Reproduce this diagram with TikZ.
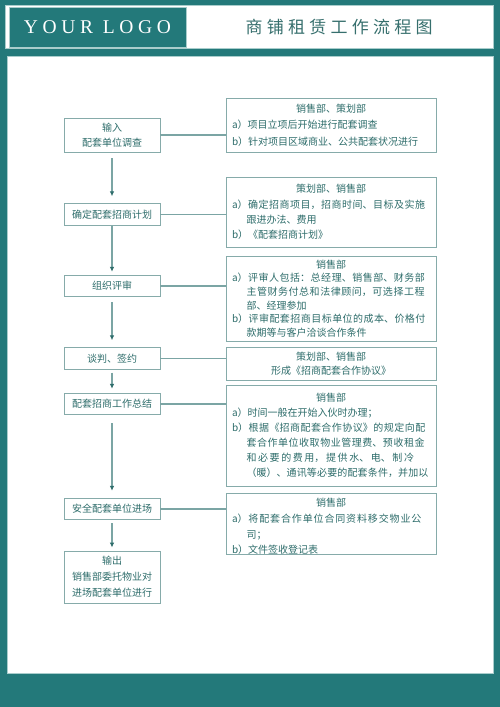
\documentclass[tikz,border=0pt]{standalone}
\usepackage{fontspec}
\usepackage{tikz}
\usetikzlibrary{arrows.meta}

\newfontfamily\cjk{Noto Sans CJK SC}
\newfontfamily\logofont[LetterSpace=24]{Liberation Serif}
\newfontfamily\titlefont[LetterSpace=25]{Noto Sans CJK SC}

\definecolor{mainteal}{HTML}{23797A}
\definecolor{edgec}{HTML}{A9CDCC}
\definecolor{boxc}{HTML}{86ABAA}
\definecolor{linec}{HTML}{7BA5A4}
\definecolor{txtc}{HTML}{2E6D6B}

\XeTeXlinebreaklocale "zh"
\XeTeXlinebreakskip=0pt plus 2pt
\tolerance=10000
\hbadness=10000

\newcommand\boxtitle[1]{{\centering\noindent #1\par}}
\newcommand\boxitem[2]{{\hangindent=1.45em\hangafter=1\noindent#1#2\par}}
\newcommand\boxitemj[2]{{\hangindent=1.45em\hangafter=1\parfillskip=0pt\noindent#1#2\par}}

\begin{document}
\begin{tikzpicture}[x=1pt, y=-1pt,
	lbox/.style={draw=boxc, line width=0.8pt, text=txtc, align=center, minimum width=96pt, minimum height=21.5pt, inner sep=0pt, font=\cjk\fontsize{10}{15}\selectfont},
	rbox/.style={draw=boxc, line width=0.8pt, text=txtc, text width=198pt, inner xsep=6pt, inner ysep=0pt},
	link/.style={draw=linec, line width=1.1pt},
	flow/.style={draw=linec, line width=1.1pt, -{Latex[length=5pt, width=4.5pt, color=txtc]}}]
	\useasboundingbox (0,0) rectangle (500,707);
	\fill[mainteal] (0,0) rectangle (500,707);
	\fill[white, draw=edgec, line width=0.8pt] (5,5) rectangle (493,48);
	\fill[white, draw=edgec, line width=0.8pt] (7,56) rectangle (493,673);
	
	\node[fill=mainteal, draw=edgec, line width=1pt, minimum width=177pt, minimum height=40pt, text=white, font=\logofont\fontsize{19.5}{24}\selectfont] (logo) at (97.5,27) {YOUR LOGO};
	\node[text=txtc!90!gray, font=\titlefont\fontsize{17}{20}\selectfont] (title) at (339,27) {商铺租赁工作流程图};
	
	\node[lbox, minimum height=34pt] (l1) at (112,135) {输入\\配套单位调查};
	\node[lbox] (l2) at (112,214.5) {确定配套招商计划};
	\node[lbox] (l3) at (112,286) {组织评审};
	\node[lbox] (l4) at (112,358.5) {谈判、签约};
	\node[lbox] (l5) at (112,404) {配套招商工作总结};
	\node[lbox] (l6) at (112,509) {安全配套单位进场};
	\node[lbox, minimum height=52pt, font=\cjk\fontsize{10}{16}\selectfont] (l7) at (112,577) {输出\\销售部委托物业对\\进场配套单位进行};
	
	\node[rbox, minimum height=54pt, font=\cjk\fontsize{10}{16.5}\selectfont] (r1) at (331,125) {%
		\boxtitle{销售部、策划部}%
		\boxitem{a）}{项目立项后开始进行配套调查}%
		\boxitem{b）}{针对项目区域商业、公共配套状况进行}};
	\node[rbox, minimum height=70pt, font=\cjk\fontsize{10}{15.3}\selectfont] (r2) at (331,212) {%
		\boxtitle{策划部、销售部}%
		\boxitem{a）}{确定招商项目，招商时间、目标及实施\linebreak 跟进办法、费用}%
		\boxitem{b）}{《配套招商计划》}};
	\node[rbox, minimum height=85pt, font=\cjk\fontsize{10}{13.6}\selectfont] (r3) at (331,298.5) {%
		\boxtitle{销售部}%
		\boxitem{a）}{评审人包括：总经理、销售部、财务部\linebreak 主管财务付总和法律顾问，可选择工程\linebreak 部、经理参加}%
		\boxitem{b）}{评审配套招商目标单位的成本、价格付\linebreak 款期等与客户洽谈合作条件}};
	\node[rbox, minimum height=33pt, font=\cjk\fontsize{10}{13.5}\selectfont] (r4) at (331,363.5) {%
		\boxtitle{策划部、销售部}%
		\boxtitle{形成《招商配套合作协议》}};
	\node[rbox, minimum height=101pt, font=\cjk\fontsize{10}{15}\selectfont] (r5) at (331,435.5) {%
		\boxtitle{销售部}%
		\boxitem{a）}{时间一般在开始入伙时办理；}%
		\boxitemj{b）}{根据《招商配套合作协议》的规定向配\linebreak 套合作单位收取物业管理费、预收租金\linebreak 和必要的费用，提供水、电、制冷\linebreak （暖）、通讯等必要的配套条件，并加以}};
	\node[rbox, minimum height=61pt] (r6) at (331,523.5) {};
	\begin{scope}
		\clip (r6.north west) rectangle (r6.south east);
		\node[rbox, draw=none, anchor=north, inner ysep=5.5pt, font=\cjk\fontsize{10}{15.6}\selectfont] (r6t) at (r6.north) {%
			\boxtitle{销售部}%
			\boxitem{a）}{将配套合作单位合同资料移交物业公\linebreak 司；}%
			\boxitem{b）}{文件签收登记表}};
	\end{scope}
	
	\draw[link] (l1.east) -- (l1.east -| r1.west);
	\draw[link] (l2.east) -- (l2.east -| r2.west);
	\draw[link] (l3.east) -- (l3.east -| r3.west);
	\draw[link] (l4.east) -- (l4.east -| r4.west);
	\draw[link] (l5.east) -- (l5.east -| r5.west);
	\draw[link] (l6.east) -- (l6.east -| r6.west);
	
	\draw[flow, shorten <=6pt, shorten >=7pt] (l1) -- (l2);
	\draw[flow, shorten >=3pt] (l2) -- (l3);
	\draw[flow, shorten <=5pt, shorten >=7pt] (l3) -- (l4);
	\draw[flow, shorten <=3pt, shorten >=4pt] (l4) -- (l5);
	\draw[flow, shorten <=8pt, shorten >=7pt] (l5) -- (l6);
	\draw[flow, shorten <=3pt, shorten >=3pt] (l6) -- (l7);
\end{tikzpicture}
\end{document}
